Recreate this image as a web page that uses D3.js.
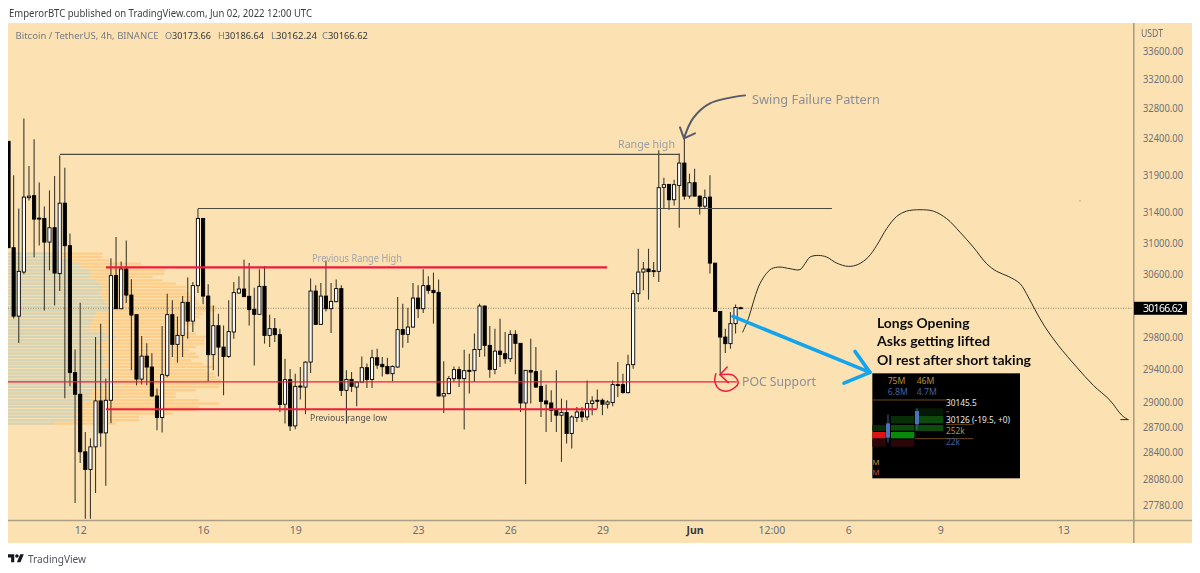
<!DOCTYPE html>
<html><head><meta charset="utf-8"><script src="https://cdn.jsdelivr.net/npm/d3@7"></script>
<style>html,body{margin:0;padding:0;background:#fff}svg{display:block;filter:blur(0.35px)}text{font-family:"Noto Sans",sans-serif}</style></head>
<body><svg id="c" width="1200" height="573"></svg>
<script>
const opens=[32352,30942,30068,30628,31597,31624,31328,31324,31015,31202,30608,31525,30968,29364,29099,28406,28197,28465,29018,28632,29026,30582,30161,30667,30334,30086,29285,29568,29433,29078,28817,29331,30086,29714,29826,30242,30005,30454,31324,30321,29586,29947,29680,29564,29868,30360,30411,30318,30153,30090,30445,29826,29910,29835,28978,29278,28716,29200,29187,29494,30385,29964,30321,30161,30250,30416,29147,29281,29187,29248,29425,29281,29548,29466,29441,29351,29433,29898,29839,29930,30296,30161,30454,30394,30369,29078,29107,29290,29401,29290,29392,29388,29651,30195,29701,29404,29630,29598,29536,29839,29727,28993,29392,29376,29196,29018,28993,28905,28845,28877,28625,28817,28884,28824,28986,29026,29026,28978,28998,29217,29217,29119,29462,30352,30628,30667,30646,30637,31734,31774,31570,31760,32059,31618,31796,31618,31485,31605,30743,30127,29805,29723,29973,30173.66];
const highs=[32352,31894,31455,32664,32019,32379,31800,31482,31694,31884,32162,31997,31128,29651,30238,28644,28569,29805,29973,29293,30804,31080,30765,31037,30535,30090,29818,29727,29602,29171,29943,30352,30267,30064,30321,30557,30500,31451,31324,30471,30203,30098,29951,30267,30500,30573,30787,30743,30428,30663,30705,30086,30043,29910,29536,29408,29351,29433,29503,30544,30458,30487,30778,30487,30531,30458,29392,29371,29257,29564,29478,29648,29660,29556,29548,29453,30309,30225,30174,30487,30458,30663,30573,30621,30531,29503,29322,29441,29441,29648,29598,29848,30225,30203,29943,29910,30035,29868,29889,29889,29727,29396,29785,29680,29392,29220,29147,29392,29047,29026,28845,28945,28945,29269,29075,29156,29047,29026,29269,29494,29351,29586,30394,30929,30756,30929,30756,32230,31863,31774,31836,32185,32388,31917,31984,31627,31707,31894,30743,30127,29910,30119,30214,30186.64];
const lows=[30942,30039,29730,30599,31561,30820,30972,30140,30650,30203,30385,29050,29196,27804,28272,27620,27620,27920,28465,28005,28748,30161,30153,30233,29392,29208,29220,29208,29066,28664,28637,29306,29556,29487,29556,29785,29868,30360,30217,29260,29392,29318,29087,29548,29785,30352,30309,29951,29453,30090,29723,29680,29743,28884,28744,28656,28676,29034,28857,29359,29960,29960,30127,29855,30242,29078,28744,29126,28953,29245,29175,29175,29413,29318,29343,29257,29425,29673,29730,29923,30043,30106,30352,29973,29075,28872,29099,29248,29187,28672,29107,29248,29556,29564,29302,29343,29433,29474,29494,29343,28884,28025,28986,29180,28824,28644,28764,28644,28287,28506,28446,28764,28764,28784,28845,28926,28845,28926,28953,29066,29107,29107,29413,30246,30394,30276,30564,30500,31451,31438,31495,31202,31570,31583,31614,31377,31451,30608,30127,29351,29606,29660,29848,30162.24];
const closes=[30942,30068,30637,31605,31618,31315,31315,31015,31202,30615,31525,30968,29367,29099,28406,28197,28465,29018,28632,29026,30582,30161,30667,30334,30081,29285,29568,29433,29078,28817,29339,30086,29714,29826,30242,30005,30454,31324,30321,29586,29947,29680,29564,29873,30365,30411,30314,30149,30090,30445,29826,29910,29835,28974,29278,28716,29196,29187,29494,30385,29964,30321,30161,30254,30416,29147,29281,29196,29248,29425,29281,29548,29457,29437,29351,29441,29898,29839,29930,30296,30161,30454,30394,30365,29078,29107,29290,29401,29290,29388,29380,29651,30195,29701,29404,29630,29590,29536,29839,29727,28993,29392,29371,29187,29014,28982,28905,28845,28877,28625,28824,28884,28824,28986,29018,29018,28978,29005,29217,29208,29119,29462,30352,30628,30667,30633,30633,31730,31770,31570,31770,32059,31618,31796,31618,31485,31597,30743,30127,29805,29723,29973,30176,30166.62];
const firstBar=-1, barsToJun1=133, barHours=4;

const priceTicks=[33600,33200,32800,32400,31900,31400,31000,30600,29800,29400,29000,28700,28400,28080,27780];
const lastPrice=30166.62;
const tickDates=[Date.UTC(2022,4,12),Date.UTC(2022,4,16),Date.UTC(2022,4,19),Date.UTC(2022,4,23),Date.UTC(2022,4,26),Date.UTC(2022,4,29),Date.UTC(2022,5,1),Date.UTC(2022,5,3,12),Date.UTC(2022,5,6),Date.UTC(2022,5,9),Date.UTC(2022,5,13)];
const tickLabels=["12","16","19","23","26","29","Jun","12:00","6","9","13"];

// volume profile (arbitrary units, top row to bottom row)
const vpUp=[20.8,21.6,29.5,33.4,34.2,38.1,38.9,38.1,41.2,42.8,44.4,43.6,42.8,44.4,45.1,45.9,47.5,46.7,41.2,40.4,39.7,38.9,38.1,38.1,45.9,50.6,45.9,42.8,41.2,43.6,44.4,45.9,45.9,44.4,43.6,47.5,46.7,46.7,49,53,44.4,39.7,38.9,38.1,38.9,34.2,32.6,32.6,30.3,34.2,30.3,21.6];
const vpAll=[44.4,44.4,47.5,62.4,68.7,73.4,73.4,67.9,72.6,78.8,83.5,83.5,85.1,88.2,89,89.8,97.6,97.6,91.4,89.8,88.2,88.2,82,83.5,88.2,92.9,92.2,92.2,88.2,85.1,88.2,89.8,85.9,91.4,96.1,92.9,96.9,97.6,100,100,99.2,88.2,78.8,78.8,89.8,99.2,89.8,89,77.3,61.6,61.6,50.6];
const vpTopPrice=30879, vpRowRatio=1.001396;

// drawn levels: [price, hours from Jun 1 start, hours from Jun 1 end]
const blackLevels=[[32176,-495.8,-11.4],[31455,-388,107.3]];
const redLevels=[[30688,-459.8,-68.4,2.2],[29251,-536.4,33,1.3],[28917,-459.8,-76.2,2.2]];

// drawings: [hours from Jun 1, price]
const forecastPath=[[37.6,29868],[42,30035],[45.9,30245],[49.8,30436],[55,30586],[60.2,30671],[66.7,30692],[74.5,30671],[82.3,30659],[86.2,30735],[90.2,30821],[96.7,30842],[103.2,30821],[111,30743],[120.1,30701],[127.9,30727],[135.7,30821],[142.3,30972],[150,31189],[157.9,31350],[165.7,31420],[176.1,31438],[186.5,31420],[197,31320],[207.3,31145],[217.7,30950],[228.2,30735],[236,30637],[245,30573],[254.2,30480],[260.7,30309],[265.9,30150],[273.8,29930],[284.1,29702],[298.5,29432],[311.5,29208],[324.5,29026],[333.7,28845],[338.6,28792]];
const forecastHead=[[333,28792],[338.6,28792]];
const blueShaft=[[30,30064],[137,29367]];
const blueHead=[[125.3,29627],[137,29367],[116.7,29236]];
const swingCurve=[[39.4,32981],[12,32870],[-1.25,32664],[-8.3,32392]];
const swingHead=[[-11.4,32542],[-8.3,32392],[0.3,32460]];
const pocHead=[[25.5,29433],[19.8,29339],[26.3,29241]];
const pocLoop=[[19.8,29339],[30.2,29331],[34.1,29236],[27.7,29147],[19.8,29156],[15.9,29248],[16.6,29351]];

// screenshot pasted in the chart
const insetCells=[[37,480,220,535,"#000"],[165,250,325,347,"#041a04"],[165,250,348,370,"#0d4a0d"],[165,250,375,393,"#0d4a0d"],[93,163,348,370,"#072e07"],[93,163,375,392,"#0b4a0b"],[93,163,396,415,"#0a8a0a"],[37,77,375,393,"#062a06"],[37,77,396,415,"#e01212"],[37,77,418,440,"#2c0606"],[93,163,418,440,"#2c0606"]];
const insetRules=[[37,260,300],[258,340,373],[165,340,416]];
const insetTexts=[["75M",83,252,"#b8923c",26],["46M",170,252,"#b8923c",26],["6.8M",83,284,"#41619f",26],["4.7M",170,284,"#41619f",26],["30145.5",258,319,"#e8e8e8",25],["30126 (-19.5, +0)",258,369,"#e8e8e8",25],["252k",258,401,"#b8923c",25],["22k",258,435,"#41619f",25],["M",37,496,"#b8923c",24],["M",37,526,"#c05050",24]];
const insetCandles=[[84,343,428,370,413],[171,325,390,333,373]];

const jun1=Date.UTC(2022,5,1), H=3600e3;
const x=d3.scaleUtc().domain([new Date(jun1-536.4*H),new Date(jun1+342.5*H)]).range([8,1133]);
const y=d3.scaleLog().domain([33600,27780]).range([51,505]);
const px=p=>x(new Date(jun1+p[0]*H)), py=p=>y(p[1]);
const svg=d3.select("#c");
const bg="#fce2b2", lineCol="#4d4a3e";

svg.append("rect").attr("x",8).attr("y",23).attr("width",1184).attr("height",520).attr("fill",bg);
const defs=svg.append("defs");
defs.append("clipPath").attr("id","pane").append("rect").attr("x",8).attr("y",24).attr("width",1125).attr("height",496);
const pane=svg.append("g").attr("clip-path","url(#pane)");

// volume profile
const vw=d3.scaleLinear().domain([0,100]).range([0,213]);
const vpPrice=vpUp.map((_,i)=>vpTopPrice/Math.pow(vpRowRatio,i));
const vp=pane.append("g");
vp.selectAll(".a").data(vpAll).join("rect").attr("x",8).attr("y",(d,i)=>y(vpPrice[i])).attr("width",d=>vw(d)).attr("height",2.3).attr("fill","#fdcd8a");
vp.selectAll(".u").data(vpUp).join("rect").attr("x",8).attr("y",(d,i)=>y(vpPrice[i])).attr("width",d=>vw(d)).attr("height",2.3).attr("fill","#d3d5ba");

// last price line
pane.append("line").attr("x1",8).attr("x2",1133).attr("y1",y(lastPrice)).attr("y2",y(lastPrice)).attr("stroke","#8d8468").attr("stroke-width",1).attr("stroke-dasharray","1 1.5");

// candles
const bars=opens.map((o,i)=>({o,h:highs[i],l:lows[i],c:closes[i],t:new Date(jun1+(i+firstBar-barsToJun1)*barHours*H)}));
const cg=pane.append("g");
cg.selectAll("line").data(bars).join("line").attr("x1",d=>x(d.t)).attr("x2",d=>x(d.t)).attr("y1",d=>y(d.h)).attr("y2",d=>y(d.l)).attr("stroke","#3d3a30").attr("stroke-width",1.1);
cg.selectAll("rect").data(bars).join("rect")
 .attr("x",d=>x(d.t)-1.6).attr("width",3.2)
 .attr("y",d=>Math.min(y(d.o),y(d.c))).attr("height",d=>Math.max(Math.abs(y(d.o)-y(d.c)),1))
 .attr("fill",d=>d.c>=d.o?"#fff":"#000").attr("stroke","#000").attr("stroke-width",0.9);

// levels
blackLevels.forEach(l=>pane.append("line").attr("x1",px([l[1]])).attr("x2",px([l[2]])).attr("y1",y(l[0])).attr("y2",y(l[0])).attr("stroke",lineCol).attr("stroke-width",1.1));
redLevels.forEach(l=>pane.append("line").attr("x1",px([l[1]])).attr("x2",px([l[2]])).attr("y1",y(l[0])).attr("y2",y(l[0])).attr("stroke","#f01a3c").attr("stroke-width",l[3]));

// drawings
const lin=d3.line().x(px).y(py);
const cur=d3.line().x(px).y(py).curve(d3.curveCatmullRom);
const stroke=(d,col,w)=>pane.append("path").attr("d",d).attr("fill","none").attr("stroke",col).attr("stroke-width",w).attr("stroke-linecap","round").attr("stroke-linejoin","round");
stroke(cur(forecastPath),"#2b2a25",1);
stroke(lin(forecastHead),"#2b2a25",1);
stroke(cur(swingCurve),"#565a6a",2);
stroke(lin(swingHead),"#565a6a",2);
stroke(cur(pocLoop),"#f01a3c",1.5);
stroke(lin(pocHead),"#f01a3c",1.5);
stroke(lin(blueShaft),"#12a5ee",3.6);
stroke(lin(blueHead),"#12a5ee",3.6);
pane.append("rect").attr("x",px([300.7])).attr("y",y(31561)).attr("width",1).attr("height",1).attr("fill","#777");

// axes frame
svg.append("line").attr("x1",8).attr("x2",1192).attr("y1",520.5).attr("y2",520.5).attr("stroke","#a89f85").attr("stroke-width",1.6);
svg.append("line").attr("x1",1133.8).attr("x2",1133.8).attr("y1",23).attr("y2",543).attr("stroke","#a89f85").attr("stroke-width",1.6);

const yAxis=svg.append("g").attr("transform","translate(1134,0)").call(d3.axisRight(y).tickValues(priceTicks).tickSize(0).tickPadding(9).tickFormat(d=>d3.format(".2f")(d)));
yAxis.select(".domain").remove();
yAxis.selectAll("text").attr("fill","#6f7079").style("font-size","10px").style("font-family",'"Noto Sans",sans-serif').attr("textLength",40).attr("lengthAdjust","spacingAndGlyphs");
const xAxis=svg.append("g").attr("transform","translate(0,521)").call(d3.axisBottom(x).tickValues(tickDates.map(t=>new Date(t))).tickSize(0).tickPadding(6).tickFormat((d,i)=>tickLabels[i]));
xAxis.select(".domain").remove();
xAxis.selectAll("text").style("font-size","10.5px").style("font-family",'"Noto Sans",sans-serif').style("font-weight",(d,i)=>tickLabels[i]==="Jun"?"700":"400").attr("fill",(d,i)=>tickLabels[i]==="Jun"?"#3a3a3a":"#6b6c74");

// last price tag
svg.append("rect").attr("x",1134).attr("y",y(lastPrice)-6.5).attr("width",53).attr("height",13).attr("fill","#000");
svg.append("text").attr("x",1143).attr("y",y(lastPrice)+3.5).attr("fill","#fff").attr("font-size",10.5).attr("textLength",40).text(d3.format(".2f")(lastPrice));

// texts
const T=(s,xx,yy,size,col,w,len,fam)=>{const t=svg.append("text").attr("x",xx).attr("y",yy).attr("font-size",size).attr("fill",col).text(s);if(w)t.attr("font-weight",w);if(len)t.attr("textLength",len).attr("lengthAdjust","spacingAndGlyphs");if(fam)t.style("font-family",fam);return t;};
T("EmperorBTC published on TradingView.com, Jun 02, 2022 12:00 UTC",9,17,10.5,"#3e3e3e",null,303);
T("USDT",1141,37,10,"#666a72",null,22);
T("Bitcoin / TetherUS, 4h, BINANCE",15.5,39,9.6,"#777a84",null,143);
[["O",165,30173.66],["H",218,30186.64],["L",271,30162.24],["C",322,30166.62]].forEach(r=>{
  const t=svg.append("text").attr("x",r[1]).attr("y",39).attr("font-size",9.5).attr("fill","#777a84").attr("textLength",46).attr("lengthAdjust","spacingAndGlyphs");
  t.append("tspan").text(r[0]);
  t.append("tspan").attr("fill","#33353b").text(d3.format(".2f")(r[2]));
});
T("Swing Failure Pattern",752,104,12.5,"#8b8e9a",null,128);
T("Range high",618,148,11.5,"#999ca6",null,57);
T("Previous Range High",312,262,10,"#a3a5ab",null,90);
T("Previous range low",310,421,9.5,"#4f4f4a",null,77);
T("POC Support",742,386,12.5,"#8b8e9a",null,74);
const boldF='Lato,sans-serif';
T("Longs Opening",877,327.5,13.5,"#0c0c0c",700,92.5,boldF);
T("Asks getting lifted",877,346,13.5,"#0c0c0c",700,113,boldF);
T("OI rest after short taking",877,364.5,13.5,"#0c0c0c",700,154,boldF);

// inset screenshot
const inset=svg.append("g").attr("transform","translate(860,300) scale(0.33333)");
inset.selectAll("rect.c").data(insetCells).join("rect").attr("x",d=>d[0]).attr("width",d=>d[1]-d[0]).attr("y",d=>d[2]).attr("height",d=>d[3]-d[2]).attr("fill",d=>d[4]);
inset.selectAll("line.r").data(insetRules).join("line").attr("x1",d=>d[0]).attr("x2",d=>d[1]).attr("y1",d=>d[2]).attr("y2",d=>d[2]).attr("stroke","#6e4a10").attr("stroke-width",3);
inset.selectAll("g.k").data(insetCandles).join("g").each(function(d){
  const g=d3.select(this);
  g.append("line").attr("x1",d[0]).attr("x2",d[0]).attr("y1",d[1]).attr("y2",d[2]).attr("stroke","#41619f").attr("stroke-width",3);
  g.append("rect").attr("x",d[0]-6).attr("width",12).attr("y",d[3]).attr("height",d[4]-d[3]).attr("fill","#4a72b8");
});
inset.selectAll("text.t").data(insetTexts).join("text").attr("x",d=>d[1]).attr("y",d=>d[2]).attr("fill",d=>d[3]).attr("font-size",d=>d[4]).text(d=>d[0]);
inset.append("rect").attr("x",258).attr("y",334).attr("width",9).attr("height",2.5).attr("fill","#d04040");

// logo
const logo=svg.append("g").attr("transform","translate(8,552.5) scale(0.445)").attr("fill","#131722");
logo.append("path").attr("d","M14 22H7V11H0V4h14v18zM28 22h-8l7.5-18h8L28 22z");
logo.append("circle").attr("cx",20).attr("cy",8).attr("r",4);
T("TradingView",28,563,11.5,"#50535e",null,58);
</script></body></html>
